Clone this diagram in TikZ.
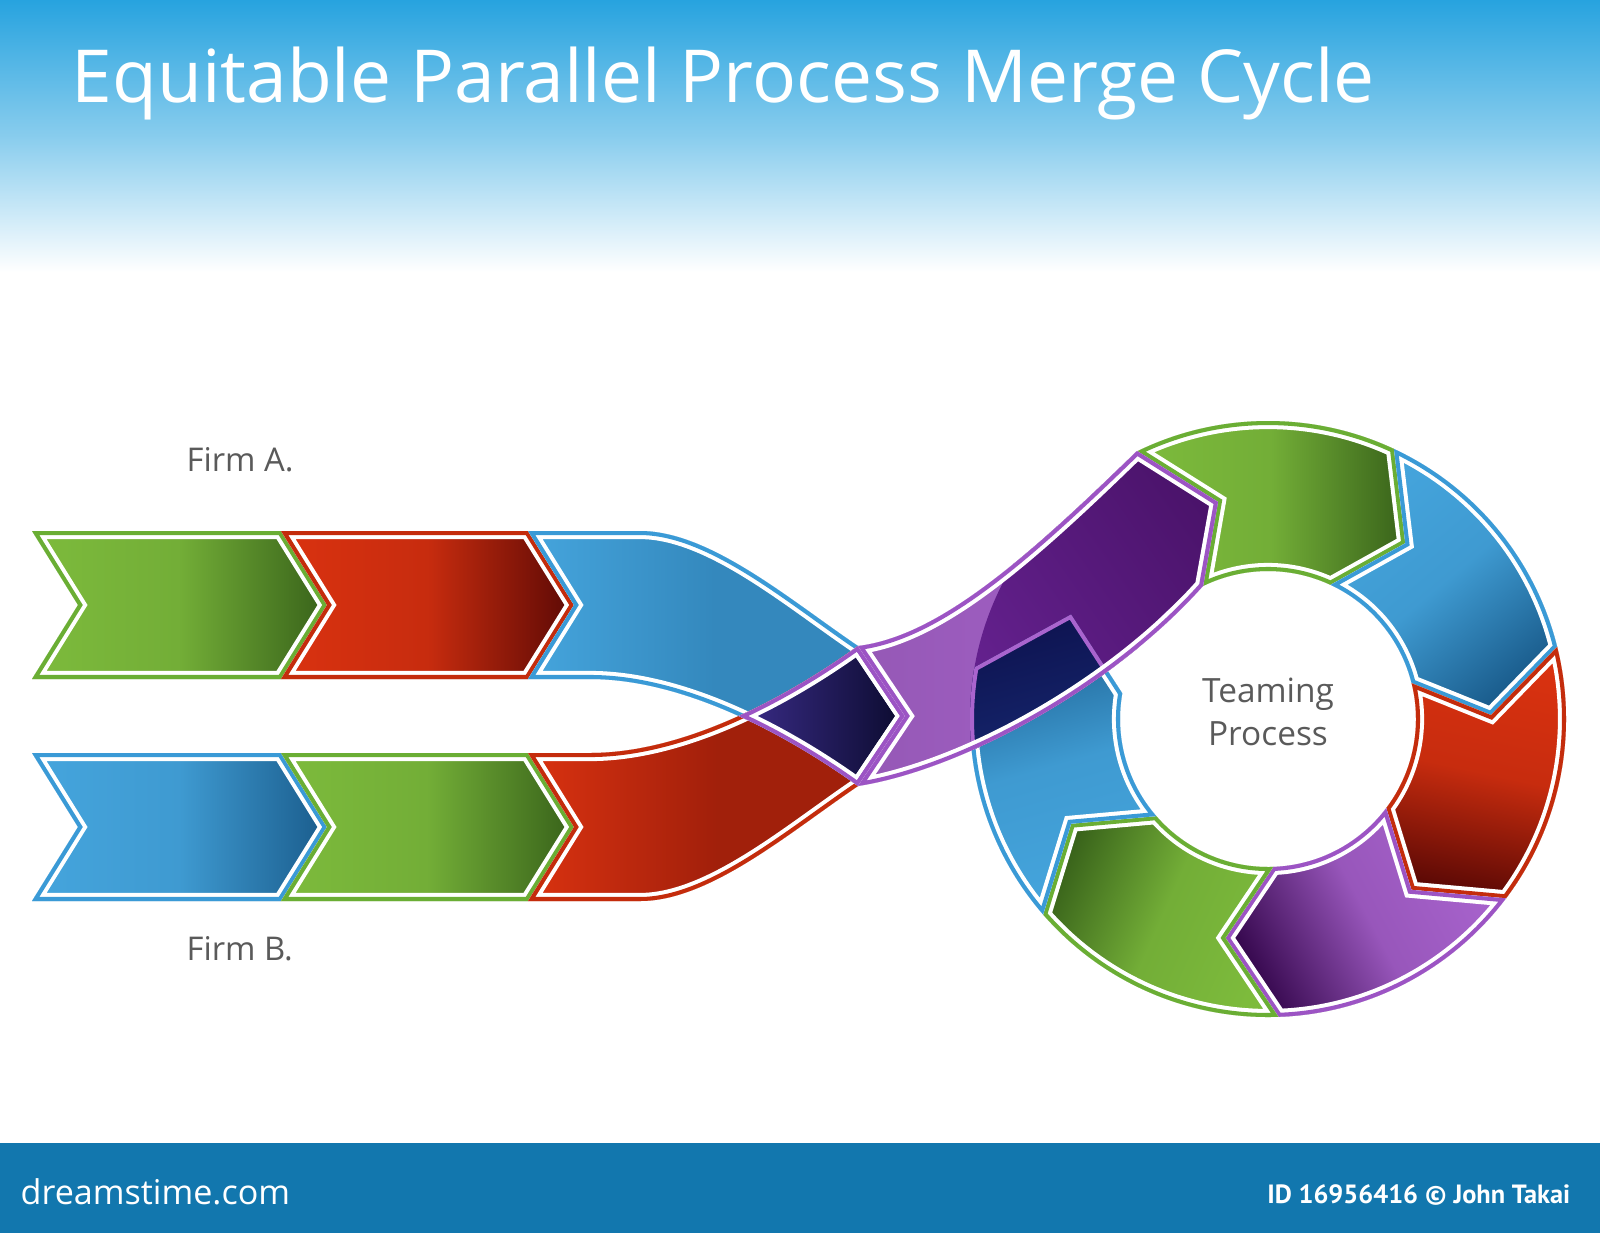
\documentclass[tikz,border=0pt]{standalone}
\usepackage{fontspec}
\setmainfont{Open Sans}
\newfontfamily\footfont{PT Sans}

\definecolor{grnL}{HTML}{7DBB3C}
\definecolor{grnD}{HTML}{38621A}
\definecolor{grnB}{HTML}{6AAE34}
\definecolor{redL}{HTML}{DA3210}
\definecolor{redD}{HTML}{5C0905}
\definecolor{redB}{HTML}{C42C0C}
\definecolor{bluL}{HTML}{45A5DD}
\definecolor{bluD}{HTML}{1A5C8C}
\definecolor{bluB}{HTML}{3A9AD6}
\definecolor{purL}{HTML}{A964CE}
\definecolor{purM}{HTML}{6C2599}
\definecolor{purD}{HTML}{36084E}
\definecolor{purB}{HTML}{9C54C4}
\definecolor{navL}{HTML}{3A2C88}
\definecolor{navD}{HTML}{0A0A2C}
\definecolor{navR}{HTML}{1E3C8E}
\definecolor{navS}{HTML}{0E1452}
\definecolor{skyT}{HTML}{27A3DF}
\definecolor{footC}{HTML}{1277AE}
\definecolor{txtG}{HTML}{5A5A5A}

\tikzset{whiteline/.style={white, line width=4.6pt},
  rimline/.style={#1, line width=2.3pt}}

\newcommand{\piece}[5]{%
  \begin{scope}
    \clip #1;
    \shade[top color=#2, bottom color=#3, middle color=#2!85!#3, shading angle=#5] #1;
    \draw[whiteline] #1;
    \draw[rimline=#4] #1;
  \end{scope}}
\newcommand{\ringpath}[3]{(#1:298) arc[start angle=#1, end angle=#2, radius=298]
  -- ({#2+#3}:223) -- (#2:148) arc[start angle=#2, end angle=#1, radius=148]
  -- ({#1+13}:223) -- cycle}
\newcommand{\ringseg}[7]{\piece{\ringpath{#1}{#2}{#3}}{#4}{#5}{#6}{#7}}
\newcommand{\bandApath}{(528,531) -- (640,531) .. controls (710,531) and (790,600) .. (858,646)
  -- (905,716) -- (858,786) .. controls (780,730) and (680,679) .. (590,679) -- (528,679) -- (574,605) -- cycle}
\newcommand{\bandBpath}{(528,753) -- (590,753) .. controls (680,753) and (780,702) .. (858,646)
  -- (905,716) -- (858,786) .. controls (790,832) and (710,901) .. (640,901) -- (528,901) -- (574,827) -- cycle}
\newcommand{\bandPpath}{(858,646) .. controls (940,636) and (1030,555) .. (1137,451)
  -- (1218,502) -- (1203,586) .. controls (1110,690) and (960,770) .. (858,786) -- (905,716) -- cycle}

\begin{document}
\begin{tikzpicture}[x=0.01cm, y=-0.01cm]
\useasboundingbox (0,0) rectangle (1600,1233);
\fill[white] (0,0) rectangle (1600,1233);
\shade[top color=skyT, bottom color=white, middle color=skyT!55] (0,0) rectangle (1600,272);
\fill[footC] (0,1143) rectangle (1600,1233);
\node[anchor=base west, inner sep=0pt, text=white, font=\fontsize{20.8}{24}\selectfont] (title) at (71,102) {Equitable Parallel Process Merge Cycle};
\node[anchor=base west, inner sep=0pt, text=white, font=\fontsize{9.7}{12}\selectfont] (site) at (20,1204) {dreamstime.com};
\node[anchor=base east, inner sep=0pt, text=white, font=\footfont\bfseries\fontsize{7.5}{9}\selectfont] (credit) at (1571,1203) {ID 16956416 © John Takai};
\node[anchor=base west, inner sep=0pt, text=txtG, font=\fontsize{9.3}{11}\selectfont] (firmA) at (186,471) {Firm A.};
\node[anchor=base west, inner sep=0pt, text=txtG, font=\fontsize{9.3}{11}\selectfont] (firmB) at (186,960) {Firm B.};

\begin{scope}[shift={(1268,719)}]
\ringseg{-116}{-65}{13}{grnL}{grnD}{grnB}{90}
\ringseg{-65}{-14}{13}{bluL}{bluD}{bluB}{40}
\ringseg{-14}{37}{13}{redL}{redD}{redB}{-12}
\ringseg{37}{88}{13}{purL}{purD}{purB}{-62}
\ringseg{88}{139}{13}{grnL}{grnD}{grnB}{-114}
\ringseg{139}{190}{18}{bluL}{bluD}{bluB}{-164}
\end{scope}

\piece{(32,531) -- (281,531) -- (327,605) -- (281,679) -- (32,679) -- (78,605) -- cycle}{grnL}{grnD}{grnB}{90}
\piece{(281,531) -- (528,531) -- (574,605) -- (528,679) -- (281,679) -- (327,605) -- cycle}{redL}{redD}{redB}{90}
\piece{\bandApath}{bluL}{bluL!60!bluD}{bluB}{90}
\piece{(32,753) -- (281,753) -- (327,827) -- (281,901) -- (32,901) -- (78,827) -- cycle}{bluL}{bluD}{bluB}{90}
\piece{(281,753) -- (528,753) -- (574,827) -- (528,901) -- (281,901) -- (327,827) -- cycle}{grnL}{grnD}{grnB}{90}
\piece{\bandBpath}{redL}{redL!55!redD}{redB}{90}

\begin{scope}
\clip \bandApath;
\clip \bandBpath;
\shade[left color=navL, right color=navD] (740,640) rectangle (910,790);
\draw[whiteline] \bandApath;
\draw[whiteline] \bandBpath;
\draw[rimline=purB] \bandApath;
\draw[rimline=purB] \bandBpath;
\end{scope}

\begin{scope}
\clip \bandPpath;
\shade[left color=purL!88!black, right color=purL] (858,440) rectangle (1222,790);
\shade[even odd rule, top color=purM, bottom color=purD, shading angle=125] (1268,719) circle[radius=298] (1268,719) circle[radius=148];
\begin{scope}[shift={(1268,719)}]
\clip \ringpath{139}{190}{18};
\shade[top color=navR, bottom color=navS, shading angle=-164] \ringpath{139}{190}{18};
\draw[rimline=purL] \ringpath{139}{190}{18};
\end{scope}
\draw[whiteline] \bandPpath;
\draw[rimline=purB] \bandPpath;
\end{scope}

\node[align=center, text=txtG, font=\fontsize{9.5}{12.2}\selectfont] (team) at (1268,712) {Teaming\\Process};
\end{tikzpicture}
\end{document}
